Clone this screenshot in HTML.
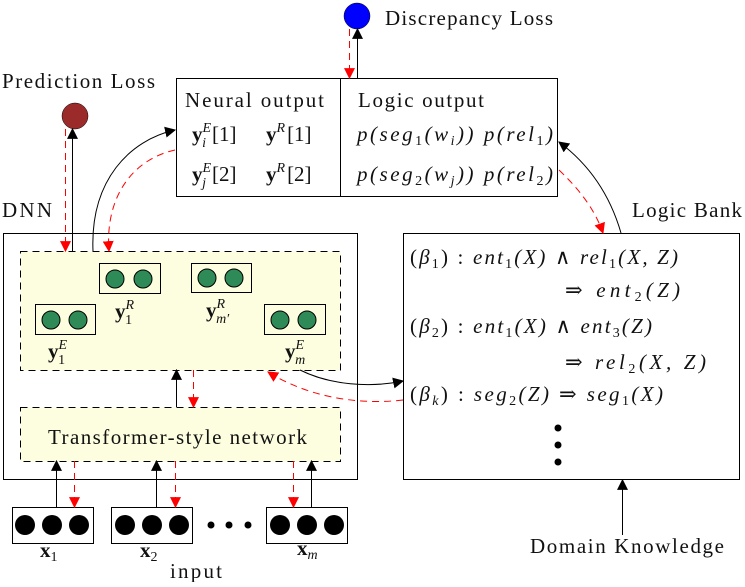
<!DOCTYPE html>
<html><head><meta charset="utf-8"><style>
body{margin:0;background:#fff}
text,tspan{font-family:'Liberation Serif','DejaVu Serif',serif}
.b{font-weight:bold;font-style:normal}
</style></head><body>
<svg width="745" height="582" viewBox="0 0 745 582" xmlns="http://www.w3.org/2000/svg" font-family="Liberation Serif, serif">
<defs>
<marker id="ab" viewBox="0 0 10 10" refX="9" refY="5" markerWidth="11" markerHeight="11" markerUnits="userSpaceOnUse" orient="auto"><path d="M0,0 L10,5 L0,10 z" fill="#000"/></marker>
<marker id="ar" viewBox="0 0 10 10" refX="9" refY="5" markerWidth="11" markerHeight="11" markerUnits="userSpaceOnUse" orient="auto"><path d="M0,0 L10,5 L0,10 z" fill="#f00"/></marker>
</defs>
<g fill="none" stroke="#000" stroke-width="1">
<rect x="176.5" y="78.5" width="381" height="118"/>
<line x1="340.5" y1="78" x2="340.5" y2="197"/>
<rect x="3.5" y="233.5" width="354" height="246"/>
<rect x="403.5" y="233.5" width="336" height="246"/>
</g>
<rect x="20.5" y="251.5" width="320" height="119" fill="#fdfde0" stroke="#000" stroke-dasharray="7,5"/>
<rect x="20.5" y="407.5" width="320" height="54" fill="#fdfde0" stroke="#000" stroke-dasharray="7,5"/>
<g fill="none" stroke="#000">
<rect x="35.5" y="304.5" width="60" height="30"/>
<rect x="99.5" y="263.5" width="61" height="30"/>
<rect x="191.5" y="263.5" width="60" height="29"/>
<rect x="264.5" y="304.5" width="61" height="30"/>
<rect x="12.5" y="507.5" width="81" height="36"/>
<rect x="111.5" y="507.5" width="81" height="36"/>
<rect x="266.5" y="507.5" width="81" height="36"/>
</g>
<g fill="#2e8b57" stroke="#000">
<circle cx="51" cy="320" r="9"/><circle cx="78" cy="320" r="9"/>
<circle cx="115" cy="279" r="9"/><circle cx="143" cy="279" r="9"/>
<circle cx="207" cy="278" r="9"/><circle cx="234" cy="278" r="9"/>
<circle cx="280" cy="320" r="9"/><circle cx="307" cy="320" r="9"/>
</g>
<g fill="#000">
<circle cx="25" cy="525" r="10"/><circle cx="52" cy="525" r="10"/><circle cx="79" cy="525" r="10"/>
<circle cx="125" cy="525" r="10"/><circle cx="152" cy="525" r="10"/><circle cx="179" cy="525" r="10"/>
<circle cx="280" cy="525" r="10"/><circle cx="307" cy="525" r="10"/><circle cx="334" cy="525" r="10"/>
<circle cx="211" cy="525" r="3.5"/><circle cx="229" cy="525" r="3.5"/><circle cx="248" cy="525" r="3.5"/>
<circle cx="558" cy="428" r="3.5"/><circle cx="558" cy="445" r="3.5"/><circle cx="558" cy="462" r="3.5"/>
</g>
<circle cx="357" cy="16" r="13" fill="#0000ff" stroke="#000" stroke-width="0.5"/>
<circle cx="75" cy="116" r="13" fill="#9b2a2a" stroke="#000" stroke-width="0.5"/>
<g stroke="#000" fill="none" marker-end="url(#ab)">
<line x1="357.5" y1="78" x2="357.5" y2="29"/>
<line x1="72.5" y1="251" x2="72.5" y2="129"/>
<path d="M93,251 C90,180 130,140 175,130"/>
<path d="M621,233 C610,195 590,165 559,142"/>
<path d="M300,370 C330,385 370,388 403,381"/>
<line x1="176.5" y1="407" x2="176.5" y2="370"/>
<line x1="56.5" y1="507" x2="56.5" y2="461"/>
<line x1="156.5" y1="507" x2="156.5" y2="461"/>
<line x1="311.5" y1="507" x2="311.5" y2="461"/>
<line x1="622.5" y1="535" x2="622.5" y2="480"/>
</g>
<g stroke="#f00" fill="none" stroke-dasharray="7,5" marker-end="url(#ar)">
<line x1="349.5" y1="29" x2="349.5" y2="78"/>
<line x1="65.5" y1="129" x2="65.5" y2="251"/>
<path d="M175,150 C130,160 105,200 109,251"/>
<path d="M559,170 C580,190 595,210 603,233"/>
<path d="M403,400 C360,405 310,398 268,372"/>
<line x1="193.5" y1="370" x2="193.5" y2="407"/>
<line x1="74.5" y1="461" x2="74.5" y2="507"/>
<line x1="175.5" y1="461" x2="175.5" y2="507"/>
<line x1="293.5" y1="461" x2="293.5" y2="507"/>
</g>
<g fill="#111" font-size="21" lengthAdjust="spacing">
<text x="385" y="25" textLength="168">Discrepancy Loss</text>
<text x="2" y="88" textLength="153">Prediction Loss</text>
<text x="2" y="217" textLength="50">DNN</text>
<text x="632" y="217" textLength="110">Logic Bank</text>
<text x="185" y="107" textLength="139">Neural output</text>
<text x="358" y="107" textLength="126">Logic output</text>
<text x="48" y="444" textLength="259">Transformer-style network</text>
<text x="170" y="578" textLength="52">input</text>
<text x="530" y="553" textLength="194">Domain Knowledge</text>
</g>
<g fill="#111" font-size="21" font-style="italic">
<text x="192" y="141"><tspan class="b">y</tspan><tspan font-size="14" dy="-9">E</tspan><tspan font-size="14" dx="-9" dy="15">i</tspan><tspan dy="-6" dx="6" font-style="normal">[1]</tspan></text>
<text x="266" y="141"><tspan class="b">y</tspan><tspan font-size="14" dy="-9">R</tspan><tspan dy="9" dx="2" font-style="normal">[1]</tspan></text>
<text x="192" y="181"><tspan class="b">y</tspan><tspan font-size="14" dy="-9">E</tspan><tspan font-size="14" dx="-9" dy="15">j</tspan><tspan dy="-6" dx="6" font-style="normal">[2]</tspan></text>
<text x="266" y="181"><tspan class="b">y</tspan><tspan font-size="14" dy="-9">R</tspan><tspan dy="9" dx="2" font-style="normal">[2]</tspan></text>
<text x="357" y="141" textLength="196" lengthAdjust="spacing">p(seg<tspan font-size="14" dy="4" font-style="normal">1</tspan><tspan dy="-4">(w</tspan><tspan font-size="14" dy="4">i</tspan><tspan dy="-4">))  p(rel</tspan><tspan font-size="14" dy="4" font-style="normal">1</tspan><tspan dy="-4">)</tspan></text>
<text x="357" y="181" textLength="196" lengthAdjust="spacing">p(seg<tspan font-size="14" dy="4" font-style="normal">2</tspan><tspan dy="-4">(w</tspan><tspan font-size="14" dy="4">j</tspan><tspan dy="-4">)) p(rel</tspan><tspan font-size="14" dy="4" font-style="normal">2</tspan><tspan dy="-4">)</tspan></text>
<text x="115" y="318"><tspan class="b">y</tspan><tspan font-size="14" dy="-9">R</tspan><tspan font-size="14" font-style="normal" dx="-9" dy="15">1</tspan></text>
<text x="206" y="317"><tspan class="b">y</tspan><tspan font-size="14" dy="-9">R</tspan><tspan font-size="14" dx="-9" dy="15">m′</tspan></text>
<text x="48" y="358"><tspan class="b">y</tspan><tspan font-size="14" dy="-9">E</tspan><tspan font-size="14" font-style="normal" dx="-9" dy="15">1</tspan></text>
<text x="285" y="358"><tspan class="b">y</tspan><tspan font-size="14" dy="-9">E</tspan><tspan font-size="14" dx="-9" dy="15">m</tspan></text>
<text x="40" y="557"><tspan class="b">x</tspan><tspan font-size="14" font-style="normal" dy="4">1</tspan></text>
<text x="140" y="557"><tspan class="b">x</tspan><tspan font-size="14" font-style="normal" dy="4">2</tspan></text>
<text x="297" y="555"><tspan class="b">x</tspan><tspan font-size="14" dy="4">m</tspan></text>
<text x="410" y="264" textLength="268" lengthAdjust="spacing"><tspan font-style="normal">(</tspan>β<tspan font-size="14" font-style="normal" dy="4">1</tspan><tspan font-style="normal" dy="-4">) : </tspan>ent<tspan font-size="14" font-style="normal" dy="4">1</tspan><tspan dy="-4">(X) ∧ rel</tspan><tspan font-size="14" font-style="normal" dy="4">1</tspan><tspan dy="-4">(X, Z)</tspan></text>
<text x="565" y="297" textLength="115" lengthAdjust="spacing"><tspan font-style="normal">⇒ </tspan>ent<tspan font-size="14" font-style="normal" dy="4">2</tspan><tspan dy="-4">(Z)</tspan></text>
<text x="410" y="333" textLength="242" lengthAdjust="spacing"><tspan font-style="normal">(</tspan>β<tspan font-size="14" font-style="normal" dy="4">2</tspan><tspan font-style="normal" dy="-4">) : </tspan>ent<tspan font-size="14" font-style="normal" dy="4">1</tspan><tspan dy="-4">(X) ∧ ent</tspan><tspan font-size="14" font-style="normal" dy="4">3</tspan><tspan dy="-4">(Z)</tspan></text>
<text x="565" y="369" textLength="141" lengthAdjust="spacing"><tspan font-style="normal">⇒ </tspan>rel<tspan font-size="14" font-style="normal" dy="4">2</tspan><tspan dy="-4">(X, Z)</tspan></text>
<text x="410" y="401" textLength="253" lengthAdjust="spacing"><tspan font-style="normal">(</tspan>β<tspan font-size="14" dy="4">k</tspan><tspan font-style="normal" dy="-4">) : </tspan>seg<tspan font-size="14" font-style="normal" dy="4">2</tspan><tspan dy="-4">(Z) ⇒ seg</tspan><tspan font-size="14" font-style="normal" dy="4">1</tspan><tspan dy="-4">(X)</tspan></text>
</g>
</svg>
</body></html>
